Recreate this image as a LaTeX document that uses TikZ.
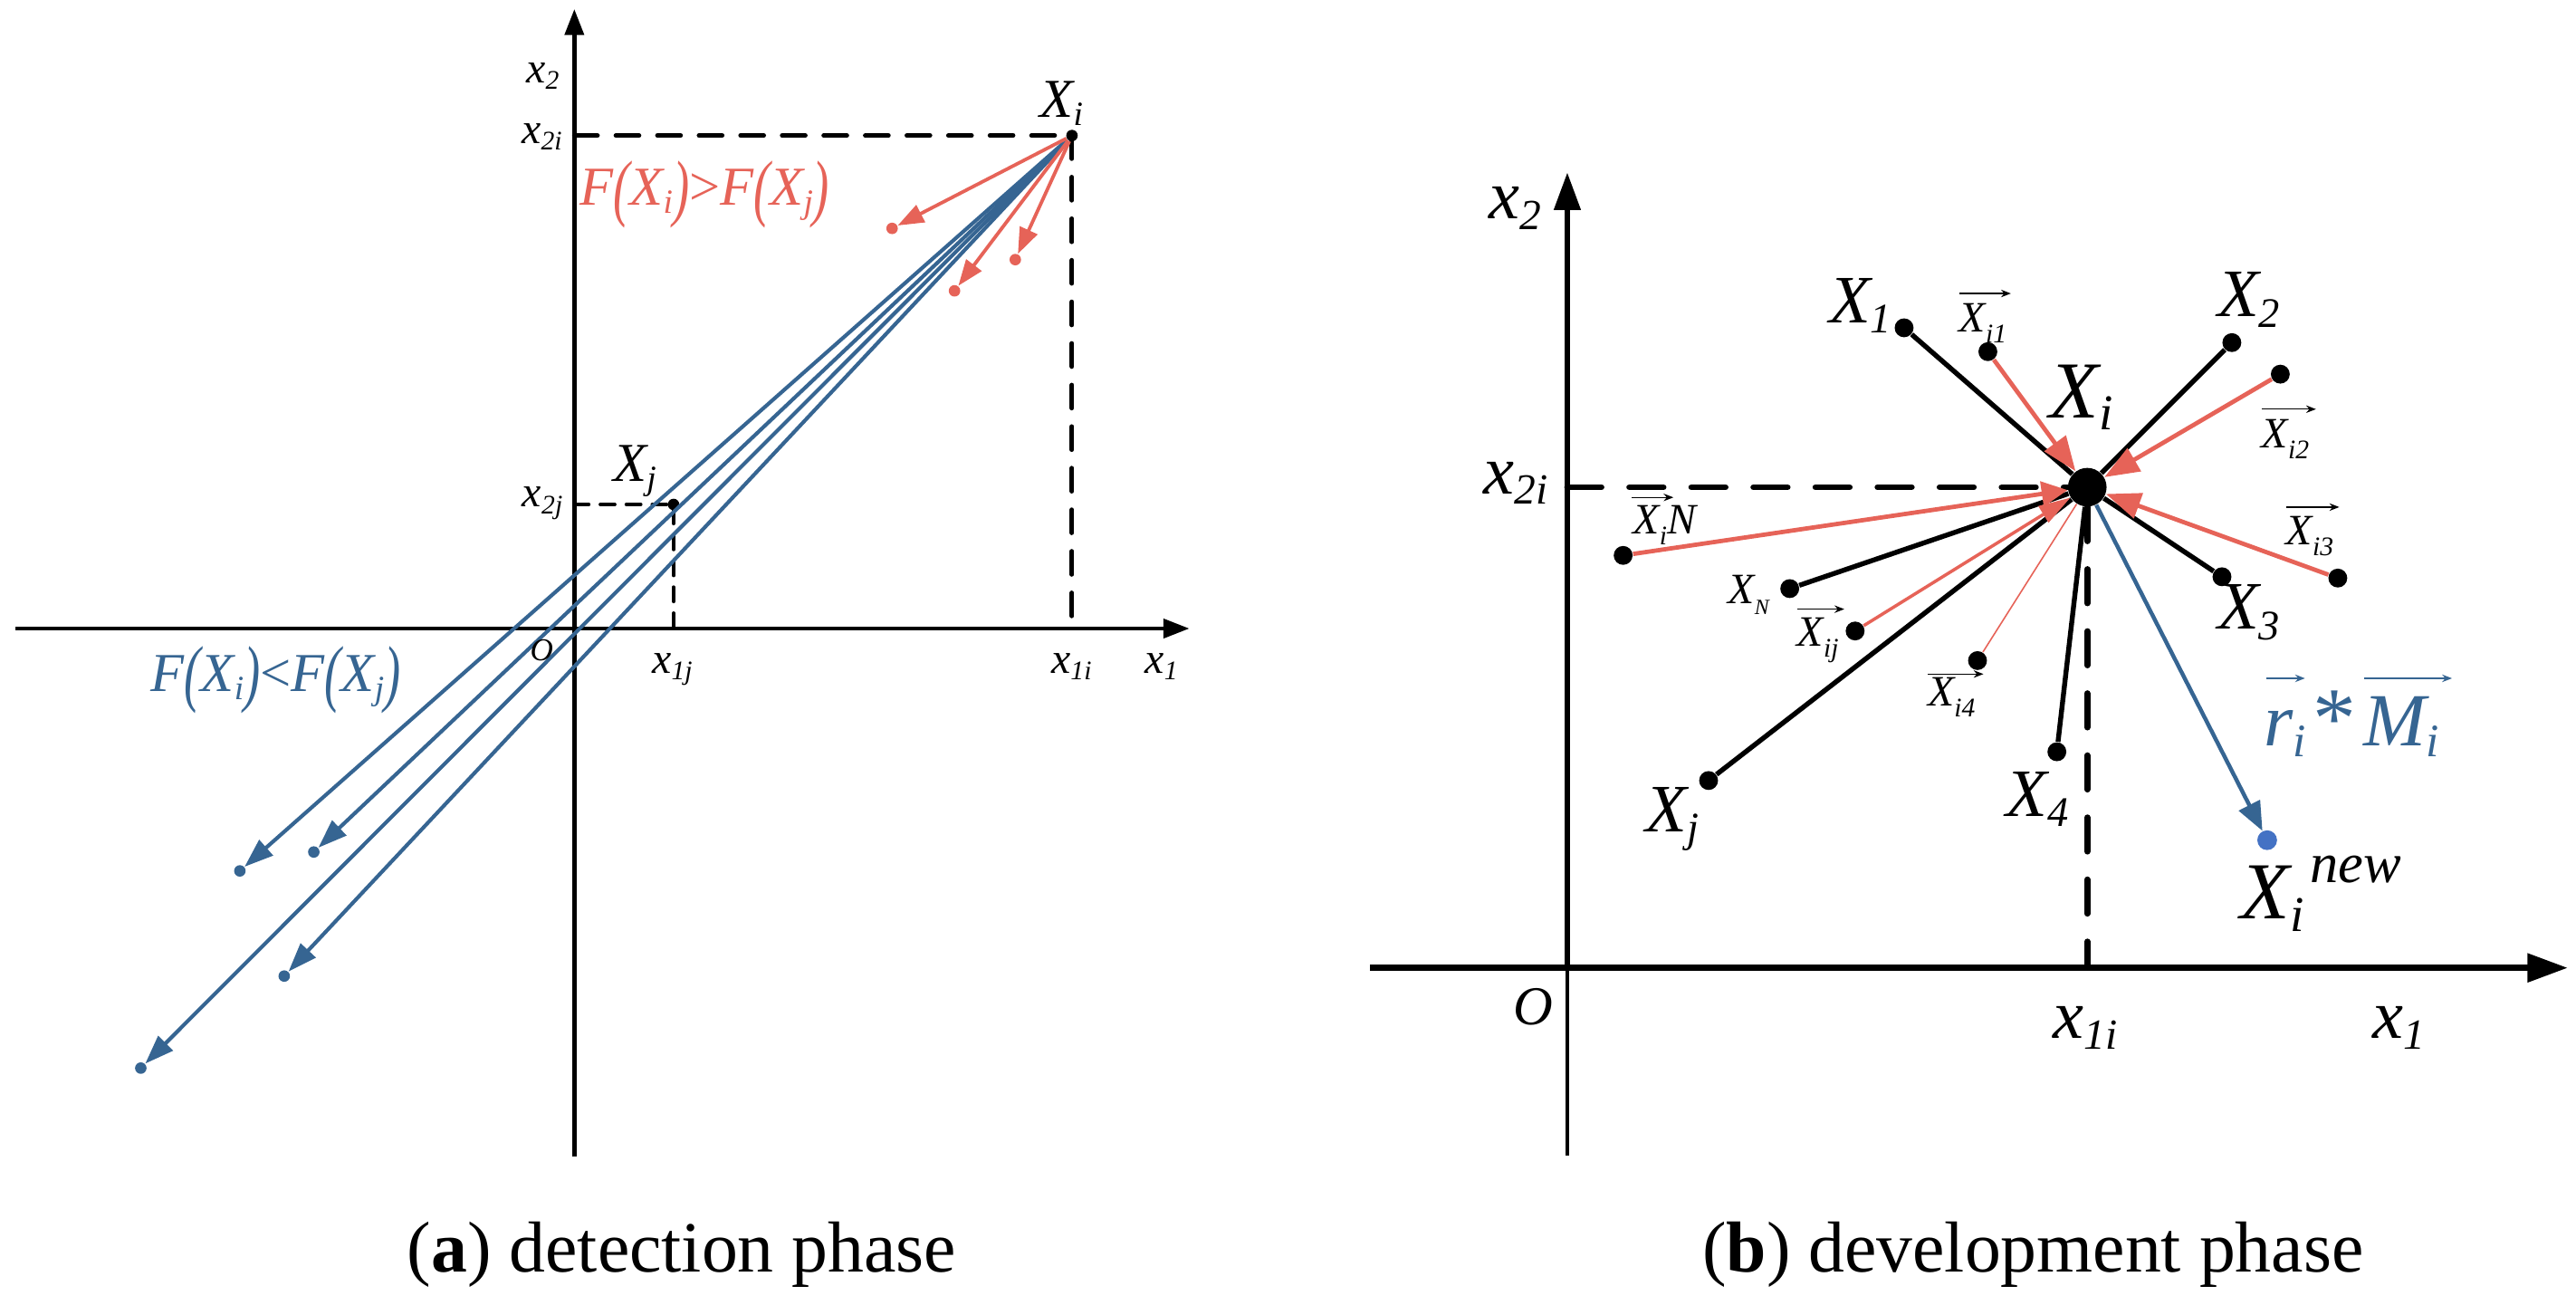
\documentclass[tikz,border=0pt]{standalone}
\usepackage{fontspec}
\setmainfont{Liberation Serif}
\usepackage{graphicx}
\usetikzlibrary{arrows.meta}
\definecolor{myred}{RGB}{230,99,88}
\definecolor{myblue}{RGB}{54,101,146}
\definecolor{newblue}{RGB}{68,114,196}
\newcommand\sbx[2][0.15em]{\raisebox{-#1}{\scalebox{0.62}{#2}}}
\newcommand\fs[1]{\fontsize{#1}{#1}\selectfont}
\newcommand\tpl{\raisebox{-0.12em}{\scalebox{0.9}[1.35]{(}}}
\newcommand\tpr{\raisebox{-0.12em}{\scalebox{0.9}[1.35]{)}}}
\begin{document}
\begin{tikzpicture}[x=0.02cm,y=-0.02cm,
  lab/.style={inner sep=0pt,outer sep=0pt,anchor=base west},
  vlab/.style={lab,font=\itshape\fs{15}},
  ldot/.style={circle,fill=black,inner sep=0pt,minimum size=0.14cm},
  rdot/.style={circle,fill=black,inner sep=0pt,minimum size=0.23cm},
  hubdot/.style={circle,fill=black,inner sep=0pt,minimum size=0.47cm},
  axL/.style={line width=1.5pt,-{Triangle[length=9pt,width=6.5pt]}},
  axRy/.style={line width=1.8pt,-{Triangle[length=13pt,width=9pt]}},
  axRx/.style={line width=2.2pt,-{Triangle[length=14pt,width=9.6pt]}},
  dashL/.style={line width=1.6pt,dash pattern=on 8pt off 6.4pt,line cap=round},
  dashLt/.style={line width=1.2pt,dash pattern=on 5pt off 4pt,line cap=round},
  dashR/.style={line width=2.1pt,dash pattern=on 11.8pt off 9.7pt,line cap=round},
  redL/.style={draw=myred,line width=1.2pt,-{Triangle[length=9pt,width=6.5pt]}},
  bluL/.style={draw=myblue,line width=1.3pt,-{Triangle[length=10pt,width=7pt]}},
  blk/.style={draw=black,line width=1.7pt},
  redR/.style={draw=myred,line width=1.5pt,-{Triangle[length=12pt,width=9pt]}},
  bluR/.style={draw=myblue,line width=1.4pt,-{Triangle[length=10pt,width=8pt]}},
  varr/.style={line width=0.4pt,-{Stealth[length=3.4pt,width=2.6pt]}}
]
\useasboundingbox (0,0) rectangle (1568,800);

%================ LEFT PANEL =================
\coordinate (Ly0) at (349.6,704);
\coordinate (Ly1) at (349.6,5.5);
\coordinate (Lx0) at (9.5,382.5);
\coordinate (Lx1) at (724,382.5);
\coordinate (Lx2iax) at (349.6,82.5);
\coordinate (Lx1iax) at (652.5,382.5);
\coordinate (Lx2jax) at (349.6,307);
\coordinate (Lx1jax) at (410,382.5);

\draw[axL] (Ly0) -- (Ly1);
\draw[axL] (Lx0) -- (Lx1);

\node[ldot] (L-Xi) at (652.5,82.5) {};
\node[ldot] (L-Xj) at (410,307) {};
\node[ldot,fill=myred] (Lr1) at (543,139) {};
\node[ldot,fill=myred] (Lr2) at (618,158) {};
\node[ldot,fill=myred] (Lr3) at (581,177) {};
\node[ldot,fill=myblue] (Lb1) at (146,530) {};
\node[ldot,fill=myblue] (Lb2) at (191,518.5) {};
\node[ldot,fill=myblue] (Lb3) at (173,594) {};
\node[ldot,fill=myblue] (Lb4) at (85.7,650) {};

\draw[dashL] (Lx2iax) -- (L-Xi.center);
\draw[dashL] (L-Xi.center) -- (Lx1iax);
\draw[dashLt] (Lx2jax) -- (L-Xj.center) -- (Lx1jax);

\draw[bluL] (L-Xi) -- (Lb1);
\draw[bluL] (L-Xi) -- (Lb2);
\draw[bluL] (L-Xi) -- (Lb3);
\draw[bluL] (L-Xi) -- (Lb4);
\draw[redL] (L-Xi) -- (Lr1);
\draw[redL] (L-Xi) -- (Lr2);
\draw[redL] (L-Xi) -- (Lr3);

\node[lab,font=\itshape\fs{15}] (Lx2) at (320.5,50.5) {x\sbx{2}};
\node[lab,font=\itshape\fs{15}] (Lx2i) at (317.7,87.3) {x\sbx{2i}};
\node[lab,font=\itshape\fs{19}] (LXil) at (633,71.6) {X\sbx{i}};
\node[lab,font=\itshape\fs{19},text=myred] (LFr) at (353,125) {F\tpl X\sbx{i}\tpr{\upshape >}F\tpl X\sbx{j}\tpr};
\node[lab,font=\itshape\fs{15}] (Lx2j) at (318,308.6) {x\sbx{2j}};
\node[lab,font=\itshape\fs{19}] (LXjl) at (373.3,293) {X\sbx{j}};
\node[lab,font=\itshape\fs{11}] (LOl) at (322.7,402.3) {O};
\node[lab,font=\itshape\fs{15}] (Lx1j) at (397,409.7) {x\sbx{1j}};
\node[lab,font=\itshape\fs{15}] (Lx1i) at (640,409.7) {x\sbx{1i}};
\node[lab,font=\itshape\fs{15}] (Lx1) at (697,409.7) {x\sbx{1}};
\node[lab,font=\itshape\fs{19},text=myblue] (LFb) at (91.9,420.7) {F\tpl X\sbx{i}\tpr{\upshape <}F\tpl X\sbx{j}\tpr};

%================ RIGHT PANEL =================
\coordinate (Ry0) at (954,703);
\coordinate (Rorig) at (954,589);
\coordinate (Ry1) at (954,105);
\coordinate (Rx0) at (834,589);
\coordinate (Rx1) at (1563,589);
\coordinate (Rx2iax) at (954,296.5);
\coordinate (Rx1iax) at (1270.5,589);

\draw[line width=1pt] (Ry0) -- (Rorig);
\draw[axRy] (Rorig) -- (Ry1);
\draw[axRx] (Rx0) -- (Rx1);

\node[hubdot] (R-Xi) at (1270.5,296.5) {};
\node[rdot] (R-X1) at (1159,199.5) {};
\node[rdot] (R-Xi1) at (1210,214) {};
\node[rdot] (R-X2) at (1358.5,208.5) {};
\node[rdot] (R-Xi2) at (1388,227.7) {};
\node[rdot] (R-Xi3) at (1423,351.8) {};
\node[rdot] (R-X3) at (1352.5,351) {};
\node[rdot] (R-XiN) at (988,338) {};
\node[rdot] (R-XN) at (1089.4,358.2) {};
\node[rdot] (R-Xij) at (1129.2,384) {};
\node[rdot] (R-Xi4) at (1203.7,402) {};
\node[rdot] (R-X4) at (1252,457.5) {};
\node[rdot] (R-Xj) at (1040,475) {};
\node[circle,fill=newblue,inner sep=0pt,minimum size=0.24cm] (R-new) at (1380,511.3) {};

\draw[dashR] (Rx2iax) -- (R-Xi);
\draw[dashR] (R-Xi) -- (Rx1iax);

\draw[blk] (R-Xi) -- (R-X1);
\draw[blk] (R-Xi) -- (R-X2);
\draw[blk] (R-Xi) -- (R-X3);
\draw[blk] (R-Xi) -- (R-X4);
\draw[blk] (R-Xi) -- (R-Xj);
\draw[blk] (R-Xi) -- (R-XN);

\draw[redR] (R-Xi1) -- (R-Xi);
\draw[redR] (R-Xi2) -- (R-Xi);
\draw[redR] (R-Xi3) -- (R-Xi);
\draw[redR,-{Triangle[length=9pt,width=8.5pt]}] (R-XiN) -- (R-Xi);
\draw[draw=myred,line width=1.1pt,-{Triangle[length=11pt,width=6.5pt]}] (R-Xij) -- (R-Xi);
\draw[draw=myred,line width=0.5pt] (R-Xi4) -- (R-Xi);
\draw[bluR] (R-Xi) -- (R-new);

\node[lab,font=\itshape\fs{24}] (Rx2) at (906.6,133.2) {x\sbx{2}};
\node[lab,font=\itshape\fs{24}] (Rx2i) at (903,300.4) {x\sbx{2i}};
\node[lab,font=\itshape\fs{23.5}] (RX1l) at (1113.3,196.6) {X\sbx{1}};
\node[lab,font=\itshape\fs{23.5}] (RX2l) at (1349.8,192.9) {X\sbx{2}};
\node[lab,font=\itshape\fs{23.5}] (RX3l) at (1349.8,383) {X\sbx{3}};
\node[lab,font=\itshape\fs{23.5}] (RX4l) at (1221,496.9) {X\sbx{4}};
\node[lab,font=\itshape\fs{23.5}] (RXjl) at (1001.8,506.1) {X\sbx{j}};
\node[lab,font=\itshape\fs{28}] (RXil) at (1247.7,254.4) {X\sbx{i}};

\node[vlab] (RXi1l) at (1192.6,202) {X\sbx[0.25em]{i1}};
\node[vlab] (RXi2l) at (1376.7,272.8) {X\sbx[0.25em]{i2}};
\node[vlab] (RXi3l) at (1391.6,331.6) {X\sbx[0.25em]{i3}};
\node[vlab] (RXiNl) at (994,325) {X\sbx[0.25em]{i}N};
\node[vlab] (RXNl) at (1052,367.5) {X\raisebox{-0.25em}{\scalebox{0.5}{N}}};
\node[vlab] (RXijl) at (1094,393.5) {X\sbx[0.25em]{ij}};
\node[vlab] (RXi4l) at (1173.5,429.6) {X\sbx[0.25em]{i4}};

\draw[varr] ([shift={(0,-23.4)}]RXi1l.base west) -- ++(31.4,0);
\draw[varr] ([shift={(0,-23.8)}]RXi2l.base west) -- ++(33,0);
\draw[varr] ([shift={(0,-23)}]RXi3l.base west) -- ++(32.3,0);
\draw[varr] ([shift={(-0.7,-22.3)}]RXiNl.base west) -- ++(25.3,0);
\draw[varr] ([shift={(0,-22.8)}]RXijl.base west) -- ++(28.6,0);
\draw[varr] ([shift={(0,-19.4)}]RXi4l.base west) -- ++(33.8,0);

\node[lab,font=\itshape\fs{26},text=myblue] (Rr) at (1378,453.8) {r\sbx{i}};
\node[inner sep=0pt,font=\fs{30},text=myblue] (Rstar) at (1421.3,437.8) {*};
\node[lab,font=\itshape\fs{26},text=myblue] (RM) at (1438.5,453.7) {M\sbx{i}};
\draw[varr,draw=myblue,line width=0.6pt] ([shift={(1.6,-41)}]Rr.base west) -- ++(23.4,0);
\draw[varr,draw=myblue,line width=0.6pt] ([shift={(0.5,-40.9)}]RM.base west) -- ++(53.5,0);

\node[lab,font=\itshape\fs{28}] (Rnewl) at (1364,559.4) {X\rlap{\sbx{i}}\kern0.25em\raisebox{0.45em}{\scalebox{0.7}{new}}};

\node[lab,font=\itshape\fs{19}] (ROl) at (921.2,623.7) {O};
\node[lab,font=\itshape\fs{24}] (Rx1i) at (1249.8,632) {x\sbx{1i}};
\node[lab,font=\itshape\fs{24}] (Rx1) at (1444.1,632) {x\sbx{1}};

%================ CAPTIONS =================
\node[font=\fs{25},anchor=base,inner sep=0pt] (capa) at (415,774.3) {(\textbf{a}) detection phase};
\node[font=\fs{25},anchor=base,inner sep=0pt] (capb) at (1237.5,774.3) {(\textbf{b}) development phase};
\end{tikzpicture}
\end{document}
